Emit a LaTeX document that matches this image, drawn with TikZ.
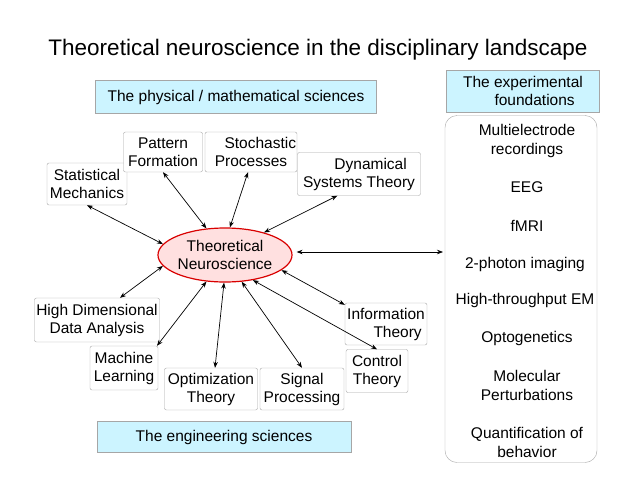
\documentclass[tikz,border=0pt]{standalone}
\usepackage{fontspec}
\setmainfont{Liberation Sans}
\usetikzlibrary{shapes.geometric,arrows.meta}
\definecolor{lb}{HTML}{CCF4FF}
\begin{document}
\begin{tikzpicture}[x=1pt,y=-1pt,
 box/.style={draw=gray!70,fill=white,rounded corners=2pt,align=center,font=\fontsize{15.5}{18}\selectfont,inner sep=0.5pt},
 band/.style={draw=gray!70,fill=lb,align=center,font=\fontsize{15.5}{18}\selectfont},
 item/.style={align=center,font=\fontsize{15.5}{19}\selectfont},
 con/.style={{Stealth[length=6pt]}-{Stealth[length=6pt]},line width=0.7pt}]
\useasboundingbox (0,0) rectangle (638,493);
\node[font=\fontsize{22.5}{26}\selectfont] (title) at (318,50) {Theoretical neuroscience in the disciplinary landscape};
\node[band,minimum width=281,minimum height=33] (phys) at (236,97) {The physical / mathematical sciences};
\node[band,minimum width=153,minimum height=42,font=\fontsize{15.5}{18}\selectfont,inner sep=1pt] (exp) at (523,91) {The experimental\\\hspace*{1.5em}foundations};
\node[band,minimum width=254,minimum height=31] (eng) at (224,437) {The engineering sciences};
\node[draw=gray!70,rounded corners=12pt,minimum width=152,minimum height=347] (col) at (521,289) {};
\node[item] (i1) at (527,141) {Multielectrode\\recordings};
\node[item] (i2) at (527,187) {EEG};
\node[item] (i3) at (527,226) {fMRI};
\node[item] (i4) at (525,264) {2-photon imaging};
\node[item] (i5) at (525,300) {High-throughput EM};
\node[item] (i6) at (527,338) {Optogenetics};
\node[item] (i7) at (527,385) {Molecular\\Perturbations};
\node[item] (i8) at (527,442) {Quantification of\\behavior};
\node[ellipse,draw=red!85!black,line width=1.2pt,fill=red!12,minimum width=126,minimum height=54,align=center,font=\fontsize{15.5}{18}\selectfont,inner sep=0pt] (tn) at (225,255) {Theoretical\\Neuroscience};
\node[box,minimum width=80,minimum height=42] (sm) at (87,184) {Statistical\\Mechanics};
\node[box,minimum width=79,minimum height=40] (pf) at (163,152) {Pattern\\Formation};
\node[box,minimum width=92,minimum height=40] (sp) at (251,152) {\hspace*{1.2em}Stochastic\\Processes};
\node[box,minimum width=123,minimum height=43] (ds) at (359,174) {\hspace*{1.5em}Dynamical\\Systems Theory};
\node[box,minimum width=125,minimum height=44] (hd) at (97,320) {High Dimensional\\Data Analysis};
\node[box,minimum width=68,minimum height=44] (ml) at (124,368) {Machine\\Learning};
\node[box,minimum width=93,minimum height=42] (ot) at (211,389) {Optimization\\Theory};
\node[box,minimum width=84,minimum height=42] (spr) at (302,389) {Signal\\Processing};
\node[box,minimum width=62,minimum height=43] (ct) at (377,371) {Control\\Theory};
\node[box,minimum width=82,minimum height=42] (it) at (386,324) {Information\\\hspace*{1.5em}Theory};
\coordinate (ce) at (443,252);
\draw[con] (sm.south) -- (tn.170);
\draw[con] (pf.south) -- (tn.125);
\draw[con] (sp.south) ++(-3,0) -- (tn.80);
\draw[con] (ds.south west) ++(40,0) coordinate (dsa) -- (tn.30);
\draw[con] (hd.north) ++(23,0) -- (tn.190);
\draw[con] (ml.north) ++(33,0) -- (tn.235);
\draw[con] (ot.north) ++(4,0) -- (tn.268);
\draw[con] (spr.north) -- (tn.302);
\draw[con] (ct.north) -- (tn.318);
\draw[con] (it.north west) ++(0,2) -- (tn.345);
\draw[con] (tn.east) ++(4,-3) -- (ce);
\end{tikzpicture}
\end{document}
